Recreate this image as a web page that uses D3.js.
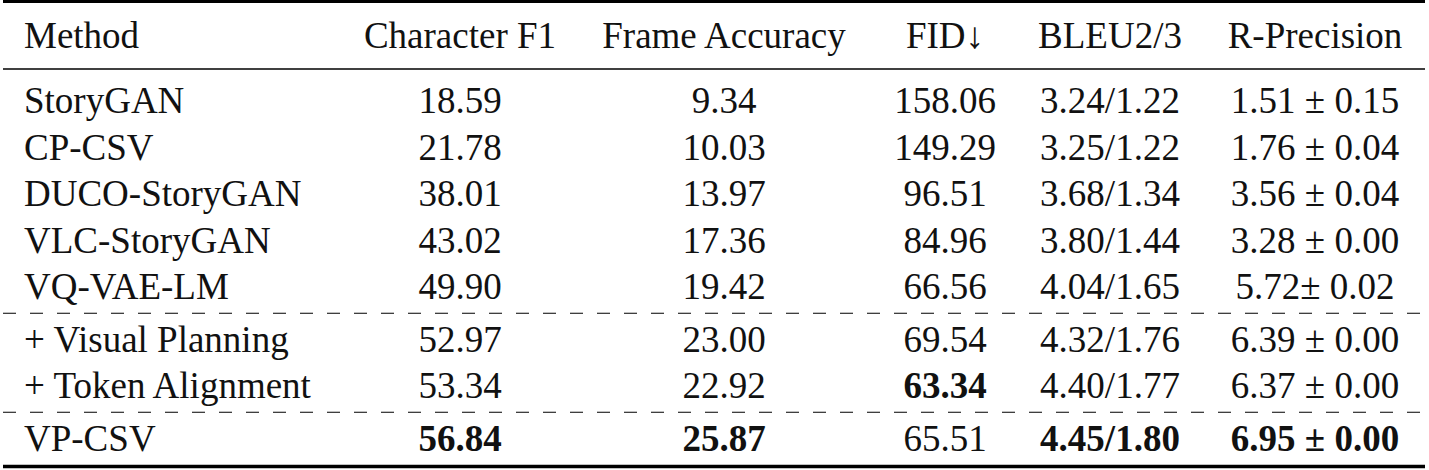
<!DOCTYPE html>
<html>
<head>
<meta charset="utf-8">
<script src="https://cdn.jsdelivr.net/npm/d3@7/dist/d3.min.js"></script>
<style>
  html, body { margin: 0; padding: 0; background: #fff; }
  text { font-family: "Liberation Serif", "Times New Roman", serif; fill: #111; }
</style>
</head>
<body>
<div id="mainDiv"></div>
<script>
// table content
var columns = ["Method", "Character F1", "Frame Accuracy", "FID\u2193", "BLEU2/3", "R-Precision"];
var methods = ["StoryGAN", "CP-CSV", "DUCO-StoryGAN", "VLC-StoryGAN", "VQ-VAE-LM",
               "+ Visual Planning", "+ Token Alignment", "VP-CSV"];
var charF1 = ["18.59", "21.78", "38.01", "43.02", "49.90", "52.97", "53.34", "56.84"];
var frameAcc = ["9.34", "10.03", "13.97", "17.36", "19.42", "23.00", "22.92", "25.87"];
var fid = ["158.06", "149.29", "96.51", "84.96", "66.56", "69.54", "63.34", "65.51"];
var bleu = ["3.24/1.22", "3.25/1.22", "3.68/1.34", "3.80/1.44", "4.04/1.65", "4.32/1.76", "4.40/1.77", "4.45/1.80"];
var rPrecision = ["1.51 \u00b1 0.15", "1.76 \u00b1 0.04", "3.56 \u00b1 0.04", "3.28 \u00b1 0.00", "5.72\u00b1 0.02",
                  "6.39 \u00b1 0.00", "6.37 \u00b1 0.00", "6.95 \u00b1 0.00"];
// block each row belongs to (dashed rule between blocks)
var rowGroup = [0, 0, 0, 0, 0, 1, 1, 2];
// best values, [row, column]
var boldCells = [[7, 1], [7, 2], [6, 3], [7, 4], [7, 5]];

var width = 1429, height = 470;
var fontSize = 37;

var svg = d3.select("#mainDiv").append("svg")
    .attr("width", width)
    .attr("height", height)
    .attr("id", "table");

var valueCols = [charF1, frameAcc, fid, bleu, rPrecision];

// column centres (first column is left aligned)
var colX = d3.scaleOrdinal()
    .domain(d3.range(columns.length))
    .range([24, 460, 724, 945, 1110, 1315]);

var rowStep = 46.5, groupGap = 6;
var rowY = function(i) { return 113 + rowStep * i + groupGap * rowGroup[i]; };

function isBold(r, c) {
    return boldCells.some(function(b) { return b[0] == r && b[1] == c; });
}

function rule(y, w, dash) {
    svg.append("line")
        .attr("x1", 3).attr("x2", 1425)
        .attr("y1", y).attr("y2", y)
        .attr("stroke", "#000")
        .attr("stroke-width", w)
        .attr("stroke-dasharray", dash || null);
}

rule(1.5, 3);
rule(69, 1.6);
rule(466.5, 3.5);

// dashed rules where the group changes
for (var i = 1; i < methods.length; i++) {
    if (rowGroup[i] != rowGroup[i - 1]) {
        rule((rowY(i - 1) + rowY(i)) / 2 - 12, 1.2, "13,14");
    }
}

// header
svg.selectAll("text.head")
    .data(columns)
    .enter().append("text")
    .attr("class", "head")
    .attr("x", function(d, i) { return colX(i); })
    .attr("y", 48)
    .attr("text-anchor", function(d, i) { return i == 0 ? "start" : "middle"; })
    .attr("font-size", fontSize + "px")
    .text(function(d) { return d; });

// rows
methods.forEach(function(m, r) {
    var cells = [m].concat(valueCols.map(function(col) { return col[r]; }));
    svg.selectAll("text.r" + r)
        .data(cells)
        .enter().append("text")
        .attr("class", "r" + r)
        .attr("x", function(d, c) { return colX(c); })
        .attr("y", rowY(r))
        .attr("text-anchor", function(d, c) { return c == 0 ? "start" : "middle"; })
        .attr("font-weight", function(d, c) { return isBold(r, c) ? "bold" : "normal"; })
        .attr("font-size", fontSize + "px")
        .text(function(d) { return d; });
});
</script>
</body>
</html>
